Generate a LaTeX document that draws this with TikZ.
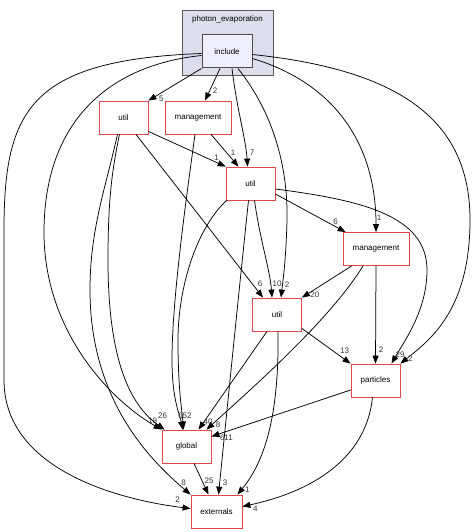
\documentclass[tikz,border=0pt]{standalone}
\usepackage{fontspec}
\setmainfont{Liberation Sans}
\usetikzlibrary{arrows.meta}

\definecolor{clusterfill}{HTML}{DDDDEE}
\definecolor{includefill}{HTML}{EEEEFF}
\definecolor{dirred}{HTML}{E0484C}

\tikzset{
  dirbox/.style={draw=dirred, line width=0.8pt, fill=white, minimum width=49pt,
    minimum height=33pt, inner xsep=8pt, font=\fontsize{8}{9}\selectfont},
  dep/.style={line width=0.75pt, -{Triangle[length=8pt,width=6pt]}},
  lbl/.style={font=\fontsize{8}{9}\selectfont, text=black!80, inner sep=0pt},
}

\begin{document}
\begin{tikzpicture}[x=1pt,y=-1pt]
\useasboundingbox (0,0) rectangle (474,532);

% cluster
\node[draw=black!65, line width=1pt, fill=clusterfill, minimum width=91pt, minimum height=65pt] (photonevap) at (227.5,43.5) {};
\node[font=\fontsize{8}{9}\selectfont] (photonevaptitle) at (227.5,19) {photon\_evaporation};
\node[dirbox, draw=black!70, line width=1pt, fill=includefill, minimum width=50pt] (include) at (227,51.5) {include};

% directories
\node[dirbox] (util1) at (123.5,117.5) {util};
\node[dirbox, minimum width=66pt] (management1) at (198,117.5) {management};
\node[dirbox] (util2) at (250.5,183.5) {util};
\node[dirbox, minimum width=66pt] (management2) at (376,249) {management};
\node[dirbox] (util3) at (277,314.5) {util};
\node[dirbox] (particles) at (375.5,380.5) {particles};
\node[dirbox] (global) at (186.5,446.5) {global};
\node[dirbox, minimum width=51pt] (externals) at (216.5,511.5) {externals};

% from include
\draw[dep] (include.south west) -- (util1.north east) node[lbl, xshift=13pt, yshift=2pt] {5};
\draw[dep] ([xshift=-7pt]include.south) -- ([xshift=7pt]management1.north) node[lbl, xshift=10pt, yshift=10pt] {2};
\draw[dep] ([xshift=5pt]include.south) .. controls (237,110) and (246,140) .. ([xshift=-3pt]util2.north) node[lbl, xshift=4.5pt, yshift=14pt] {7};
\draw[dep] ([xshift=11pt]include.south) .. controls (275,115) and (288,170) .. (287,220) .. controls (286,260) and (283,280) .. ([xshift=4pt]util3.north) node[lbl, xshift=6pt, yshift=13pt] {2};
\draw[dep] ([yshift=-7pt]include.east) .. controls (340,85) and (376,150) .. (management2.north) node[lbl, xshift=3pt, yshift=14pt] {1};
\draw[dep] ([yshift=-3pt]include.east) .. controls (400,70) and (470,120) .. (470,220) .. controls (470,310) and (430,340) .. (particles.north east) node[lbl, xshift=10pt, yshift=5pt] {2};
\draw[dep] ([yshift=-4pt]include.west) .. controls (110,65) and (45,120) .. (44,230) .. controls (43,330) and (110,400) .. (global.north west) node[lbl, xshift=-9pt, yshift=9pt] {19};
\draw[dep] ([yshift=-2pt]include.west) .. controls (30,60) and (4,110) .. (4,230) -- (4,380) .. controls (4,470) and (120,500) .. ([yshift=3pt]externals.west) node[lbl, xshift=-13pt, yshift=9pt] {2};

% from util (top)
\draw[dep] ([yshift=3pt]util1.south east) -- (util2.north west) node[lbl, xshift=-9pt, yshift=9pt] {1};
\draw[dep] ([xshift=12.5pt]util1.south) -- ([xshift=-14pt]util3.north) node[lbl, xshift=-3pt, yshift=14pt] {6};
\draw[dep] ([xshift=-4pt]util1.south) .. controls (112,170) and (108,200) .. (108,260) .. controls (108,360) and (130,405) .. ([xshift=3pt]global.north west) node[lbl, xshift=-2pt, yshift=14pt] {26};
\draw[dep] ([xshift=-6pt]util1.south) .. controls (105,190) and (90,230) .. (90,290) .. controls (90,400) and (150,460) .. (externals.north west) node[lbl, xshift=-7pt, yshift=12pt] {8};

% from management (top)
\draw[dep] ([xshift=13pt]management1.south) -- ([xshift=-12pt]util2.north) node[lbl, xshift=-5.5pt, yshift=14pt] {1};
\draw[dep] ([xshift=-3pt]management1.south) .. controls (186,200) and (172,300) .. (172,360) .. controls (172,400) and (180,415) .. ([xshift=-4pt]global.north) node[lbl, xshift=4.5pt, yshift=14pt] {52};

% from util (middle)
\draw[dep] ([yshift=-10.5pt]util2.east) -- ([xshift=3pt]management2.north west) node[lbl, xshift=-10pt, yshift=10pt] {6};
\draw[dep] ([xshift=4pt]util2.south) .. controls (260,240) and (270,270) .. ([xshift=-5pt]util3.north) node[lbl, xshift=5pt, yshift=14pt] {10};
\draw[dep] ([yshift=-5.5pt]util2.east) .. controls (360,200) and (427,215) .. (427,270) .. controls (427,310) and (405,340) .. ([xshift=16pt]particles.north) node[lbl, xshift=8.5pt, yshift=9pt] {29};
\draw[dep] ([xshift=1pt]util2.south west) .. controls (195,230) and (178,290) .. (178,340) .. controls (178,390) and (182,410) .. ([xshift=-3pt]global.north) node[lbl, xshift=-3pt, yshift=14pt] {6};
\draw[dep] ([xshift=-2pt]util2.south) .. controls (238,300) and (226,420) .. ([xshift=2pt]externals.north) node[lbl, xshift=6.5pt, yshift=12pt] {3};

% from management (middle)
\draw[dep] ([xshift=9pt]management2.south west) -- (util3.north east) node[lbl, xshift=13pt, yshift=3pt] {20};
\draw[dep] (management2.south) -- (particles.north) node[lbl, xshift=5.5pt, yshift=14pt] {2};
\draw[dep] ([xshift=-13pt]management2.south) .. controls (330,320) and (250,390) .. ([xshift=20pt]global.north) node[lbl, xshift=11.5pt, yshift=5pt] {8};

% from util (bottom)
\draw[dep] ([yshift=3pt]util3.south east) -- (particles.north west) node[lbl, xshift=-6pt, yshift=13pt] {13};
\draw[dep] ([xshift=-10pt]util3.south) -- ([xshift=12pt]global.north) node[lbl, xshift=9.5pt, yshift=8pt] {40};
\draw[dep] ([xshift=1pt]util3.south) .. controls (279,400) and (270,455) .. ([xshift=-5pt]externals.north east) node[lbl, xshift=10pt, yshift=5pt] {1};

% from particles and global
\draw[dep] ([yshift=-9.5pt]particles.west) -- ([yshift=10pt]global.east) node[lbl, xshift=15pt, yshift=-1.5pt] {611};
\draw[dep] ([xshift=-3pt]particles.south) .. controls (366,460) and (310,492) .. ([yshift=5pt]externals.east) node[lbl, xshift=13pt, yshift=-2.5pt] {4};
\draw[dep] ([xshift=7.5pt]global.south) -- ([xshift=-8pt]externals.north) node[lbl, xshift=0.5pt, yshift=14pt] {25};
\end{tikzpicture}
\end{document}
